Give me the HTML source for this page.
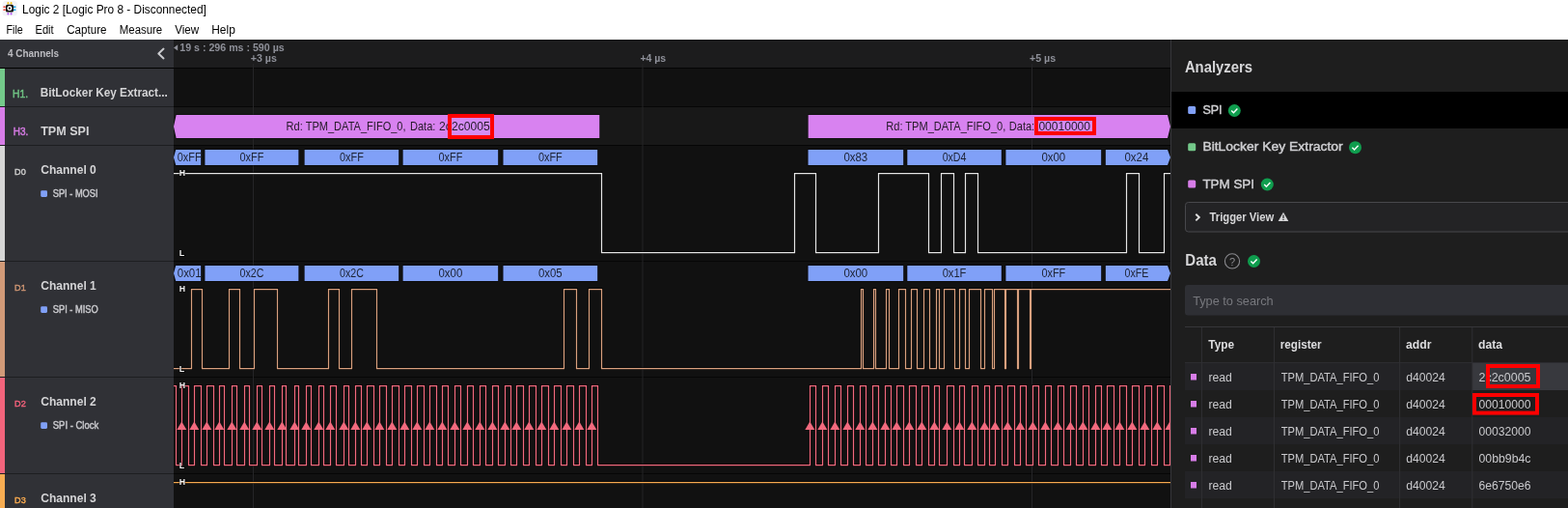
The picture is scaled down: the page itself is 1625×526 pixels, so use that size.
<!DOCTYPE html>
<html><head><meta charset="utf-8"><title>Logic 2</title>
<style>html,body{margin:0;padding:0;background:#fff;}body{width:1625px;height:526px;overflow:hidden;position:relative;}</style>
</head><body>
<svg width="1625" height="526" viewBox="0 0 1625 526" font-family='"Liberation Sans", Arial, sans-serif' style="position:absolute;left:0;top:0;display:block">
<rect x="0" y="0" width="1625" height="41" fill="#ffffff"/>
<g>
<rect x="2.5" y="1" width="15.5" height="15.5" rx="3.5" fill="#f3f4f8"/>
<ellipse cx="8.4" cy="3.3" rx="0.9" ry="1.3" fill="#f5c518"/>
<ellipse cx="11.6" cy="3.3" rx="0.9" ry="1.3" fill="#f5c518"/>
<ellipse cx="8.4" cy="14.2" rx="0.9" ry="1.3" fill="#b85cf5"/>
<ellipse cx="11.6" cy="14.2" rx="0.9" ry="1.3" fill="#b85cf5"/>
<ellipse cx="4.6" cy="7.2" rx="1.3" ry="0.9" fill="#f04a3a"/>
<ellipse cx="4.6" cy="10.2" rx="1.3" ry="0.9" fill="#f04a3a"/>
<ellipse cx="15.2" cy="7.2" rx="1.3" ry="0.9" fill="#1aa8f0"/>
<ellipse cx="15.2" cy="10.2" rx="1.3" ry="0.9" fill="#1aa8f0"/>
<rect x="6" y="4.8" width="8" height="7.8" rx="1.6" fill="#111"/>
<circle cx="9.9" cy="8.6" r="2.5" fill="#fff"/><circle cx="9.9" cy="8.6" r="1.1" fill="#111"/>
</g>
<text x="23.10" y="14.30" font-size="12" fill="#000" textLength="190.70" lengthAdjust="spacingAndGlyphs">Logic 2 [Logic Pro 8 - Disconnected]</text>
<text x="6.50" y="34.60" font-size="12" fill="#000" textLength="17.30" lengthAdjust="spacingAndGlyphs">File</text>
<text x="36.50" y="34.60" font-size="12" fill="#000" textLength="19.20" lengthAdjust="spacingAndGlyphs">Edit</text>
<text x="69.20" y="34.60" font-size="12" fill="#000" textLength="41.30" lengthAdjust="spacingAndGlyphs">Capture</text>
<text x="123.80" y="34.60" font-size="12" fill="#000" textLength="44.40" lengthAdjust="spacingAndGlyphs">Measure</text>
<text x="181.20" y="34.60" font-size="12" fill="#000" textLength="25.00" lengthAdjust="spacingAndGlyphs">View</text>
<text x="219.20" y="34.60" font-size="12" fill="#000" textLength="24.60" lengthAdjust="spacingAndGlyphs">Help</text>
<rect x="0" y="41" width="180" height="485" fill="#303136"/>
<text x="8.00" y="58.90" font-size="10" font-weight="bold" fill="#bdbdc2" textLength="53.10" lengthAdjust="spacingAndGlyphs">4 Channels</text>
<path d="M169.5 50.6 L164.3 55.5 L169.5 60.4" fill="none" stroke="#c9cace" stroke-width="2" stroke-linecap="round" stroke-linejoin="round"/>
<rect x="0" y="70" width="180" height="1" fill="#000000"/>
<rect x="0" y="110" width="180" height="1" fill="#1d1e21"/>
<rect x="0" y="150" width="180" height="1" fill="#1d1e21"/>
<rect x="0" y="270" width="180" height="1" fill="#1d1e21"/>
<rect x="0" y="390" width="180" height="1" fill="#1d1e21"/>
<rect x="0" y="490" width="180" height="1" fill="#1d1e21"/>
<rect x="0" y="71" width="5" height="39" fill="#74c98a"/>
<rect x="0" y="111" width="5" height="39" fill="#d77de8"/>
<rect x="0" y="151" width="5" height="119" fill="#d6d6d6"/>
<rect x="0" y="271" width="5" height="119" fill="#d19a78"/>
<rect x="0" y="391" width="5" height="99" fill="#f3647c"/>
<rect x="0" y="491" width="5" height="35" fill="#f7ad52"/>
<text x="13.00" y="101.00" font-size="10" stroke="#6fc183" stroke-width="0.45" fill="#6fc183" textLength="16.00" lengthAdjust="spacingAndGlyphs">H1.</text>
<text x="41.70" y="99.70" font-size="13" font-weight="bold" fill="#d4d4d6" textLength="132.10" lengthAdjust="spacingAndGlyphs">BitLocker Key Extract...</text>
<text x="13.70" y="140.30" font-size="10" stroke="#d47ae2" stroke-width="0.45" fill="#d47ae2" textLength="15.50" lengthAdjust="spacingAndGlyphs">H3.</text>
<text x="42.20" y="139.90" font-size="13" font-weight="bold" fill="#d4d4d6" textLength="50.20" lengthAdjust="spacingAndGlyphs">TPM SPI</text>
<text x="15.10" y="180.90" font-size="9.7" stroke="#c9c9c9" stroke-width="0.45" fill="#c9c9c9" textLength="11.60" lengthAdjust="spacingAndGlyphs">D0</text>
<text x="42.20" y="179.90" font-size="13" font-weight="bold" fill="#d4d4d6" textLength="57.60" lengthAdjust="spacingAndGlyphs">Channel 0</text>
<rect x="42.2" y="197.3" width="6.8" height="6.6" rx="1.3" fill="#80a0f7"/>
<text x="54.80" y="203.80" font-size="10" stroke="#c8c8cc" stroke-width="0.45" fill="#c8c8cc" textLength="46.70" lengthAdjust="spacingAndGlyphs">SPI - MOSI</text>
<text x="15.10" y="300.90" font-size="9.7" stroke="#cc9472" stroke-width="0.45" fill="#cc9472" textLength="11.60" lengthAdjust="spacingAndGlyphs">D1</text>
<text x="42.20" y="299.90" font-size="13" font-weight="bold" fill="#d4d4d6" textLength="57.60" lengthAdjust="spacingAndGlyphs">Channel 1</text>
<rect x="42.2" y="317.3" width="6.8" height="6.6" rx="1.3" fill="#80a0f7"/>
<text x="54.80" y="323.80" font-size="10" stroke="#c8c8cc" stroke-width="0.45" fill="#c8c8cc" textLength="46.90" lengthAdjust="spacingAndGlyphs">SPI - MISO</text>
<text x="15.10" y="420.90" font-size="9.7" stroke="#f0607a" stroke-width="0.45" fill="#f0607a" textLength="11.60" lengthAdjust="spacingAndGlyphs">D2</text>
<text x="42.20" y="419.90" font-size="13" font-weight="bold" fill="#d4d4d6" textLength="57.60" lengthAdjust="spacingAndGlyphs">Channel 2</text>
<rect x="42.2" y="437.3" width="6.8" height="6.6" rx="1.3" fill="#80a0f7"/>
<text x="54.80" y="443.80" font-size="10" stroke="#c8c8cc" stroke-width="0.45" fill="#c8c8cc" textLength="47.40" lengthAdjust="spacingAndGlyphs">SPI - Clock</text>
<text x="15.10" y="520.90" font-size="9.7" stroke="#f5a84f" stroke-width="0.45" fill="#f5a84f" textLength="11.60" lengthAdjust="spacingAndGlyphs">D3</text>
<text x="42.20" y="519.90" font-size="13" font-weight="bold" fill="#d4d4d6" textLength="57.60" lengthAdjust="spacingAndGlyphs">Channel 3</text>
<svg x="180" y="41" width="1033" height="485" viewBox="180 41 1033 485" overflow="hidden">
<rect x="180" y="41" width="1033" height="29" fill="#1c1c1d"/>
<rect x="180" y="70" width="1033" height="1" fill="#050505"/>
<rect x="180" y="71" width="1033" height="39" fill="#111111"/>
<rect x="180" y="111" width="1033" height="39" fill="#181818"/>
<rect x="180" y="151" width="1033" height="119" fill="#111111"/>
<rect x="180" y="271" width="1033" height="119" fill="#111111"/>
<rect x="180" y="391" width="1033" height="99" fill="#111111"/>
<rect x="180" y="491" width="1033" height="35" fill="#111111"/>
<rect x="180" y="110" width="1033" height="1" fill="#060606"/>
<rect x="180" y="150" width="1033" height="1" fill="#060606"/>
<rect x="180" y="270" width="1033" height="1" fill="#060606"/>
<rect x="180" y="390" width="1033" height="1" fill="#060606"/>
<rect x="180" y="490" width="1033" height="1" fill="#060606"/>
<line x1="262.5" y1="66" x2="262.5" y2="526" stroke="#252527" stroke-width="1"/>
<line x1="666" y1="66" x2="666" y2="526" stroke="#252527" stroke-width="1"/>
<line x1="1069.5" y1="66" x2="1069.5" y2="526" stroke="#252527" stroke-width="1"/>
<path d="M180 49.4 L184.2 46.2 L184.2 52.5 Z" fill="#8e9099"/>
<text x="186.30" y="52.60" font-size="10" font-weight="bold" fill="#8e9099" textLength="108.40" lengthAdjust="spacingAndGlyphs">19 s : 296 ms : 590 µs</text>
<text x="259.80" y="63.90" font-size="10" font-weight="bold" fill="#8e9099" textLength="27.10" lengthAdjust="spacingAndGlyphs">+3 µs</text>
<text x="663.40" y="63.90" font-size="10" font-weight="bold" fill="#8e9099" textLength="26.80" lengthAdjust="spacingAndGlyphs">+4 µs</text>
<text x="1067.00" y="63.90" font-size="10" font-weight="bold" fill="#8e9099" textLength="27.10" lengthAdjust="spacingAndGlyphs">+5 µs</text>
<path d="M180 131 L182.6 119 L621.3 119 L621.3 143 L182.6 143 Z" fill="#d882f0" stroke="#000" stroke-opacity="0.6" stroke-width="1.2" paint-order="stroke"/>
<path d="M837.6 119 L1210 119 L1213 131 L1210 143 L837.6 143 Z" fill="#d882f0" stroke="#000" stroke-opacity="0.6" stroke-width="1.2" paint-order="stroke"/>
<rect x="468" y="122" width="40" height="18" fill="#d48cf4"/>
<rect x="1076" y="125" width="56" height="11" fill="#d48cf4"/>
<text x="296.60" y="135.00" font-size="13" fill="#241a28" textLength="124.00" lengthAdjust="spacingAndGlyphs">Rd: TPM_DATA_FIFO_0,</text>
<text x="425.00" y="135.00" font-size="13" fill="#241a28" textLength="26.40" lengthAdjust="spacingAndGlyphs">Data:</text>
<text x="455.10" y="135.00" font-size="13" fill="#241a28" textLength="52.60" lengthAdjust="spacingAndGlyphs">2c2c0005</text>
<text x="918.30" y="135.00" font-size="13" fill="#241a28" textLength="124.00" lengthAdjust="spacingAndGlyphs">Rd: TPM_DATA_FIFO_0,</text>
<text x="1045.80" y="135.00" font-size="13" fill="#241a28" textLength="26.40" lengthAdjust="spacingAndGlyphs">Data:</text>
<text x="1076.40" y="135.00" font-size="13" fill="#241a28" textLength="53.60" lengthAdjust="spacingAndGlyphs">00010000</text>
<rect x="466" y="120" width="44" height="22" fill="none" stroke="#ff0000" stroke-width="4"/>
<rect x="1074" y="123" width="60" height="15" fill="none" stroke="#ff0000" stroke-width="4"/>
<path d="M180 163 L182.2 155 L208.2 155 L208.2 171 L182.2 171 Z" fill="#80a0f7" stroke="#000" stroke-opacity="0.6" stroke-width="1.2" paint-order="stroke"/>
<svg x="180" y="155" width="28.19999999999999" height="16" overflow="hidden"><text x="3.8" y="11.8" font-size="12" fill="#1c2233" textLength="24.8" lengthAdjust="spacingAndGlyphs">0xFF</text></svg>
<rect x="212.4" y="155" width="96.99999999999997" height="16" fill="#80a0f7" stroke="#000" stroke-opacity="0.6" stroke-width="1.2" paint-order="stroke"/>
<text x="260.90" y="166.80" font-size="12" fill="#1c2233" textLength="24.80" lengthAdjust="spacingAndGlyphs" text-anchor="middle">0xFF</text>
<rect x="315.6" y="155" width="97.59999999999997" height="16" fill="#80a0f7" stroke="#000" stroke-opacity="0.6" stroke-width="1.2" paint-order="stroke"/>
<text x="364.40" y="166.80" font-size="12" fill="#1c2233" textLength="24.80" lengthAdjust="spacingAndGlyphs" text-anchor="middle">0xFF</text>
<rect x="417.6" y="155" width="98.60000000000002" height="16" fill="#80a0f7" stroke="#000" stroke-opacity="0.6" stroke-width="1.2" paint-order="stroke"/>
<text x="466.90" y="166.80" font-size="12" fill="#1c2233" textLength="24.80" lengthAdjust="spacingAndGlyphs" text-anchor="middle">0xFF</text>
<rect x="521.5" y="155" width="97.70000000000005" height="16" fill="#80a0f7" stroke="#000" stroke-opacity="0.6" stroke-width="1.2" paint-order="stroke"/>
<text x="570.35" y="166.80" font-size="12" fill="#1c2233" textLength="24.80" lengthAdjust="spacingAndGlyphs" text-anchor="middle">0xFF</text>
<rect x="837.5" y="155" width="98.70000000000005" height="16" fill="#80a0f7" stroke="#000" stroke-opacity="0.6" stroke-width="1.2" paint-order="stroke"/>
<text x="886.85" y="166.80" font-size="12" fill="#1c2233" textLength="24.80" lengthAdjust="spacingAndGlyphs" text-anchor="middle">0x83</text>
<rect x="940.3" y="155" width="97.5" height="16" fill="#80a0f7" stroke="#000" stroke-opacity="0.6" stroke-width="1.2" paint-order="stroke"/>
<text x="989.05" y="166.80" font-size="12" fill="#1c2233" textLength="24.80" lengthAdjust="spacingAndGlyphs" text-anchor="middle">0xD4</text>
<rect x="1042.4" y="155" width="98.79999999999995" height="16" fill="#80a0f7" stroke="#000" stroke-opacity="0.6" stroke-width="1.2" paint-order="stroke"/>
<text x="1091.80" y="166.80" font-size="12" fill="#1c2233" textLength="24.80" lengthAdjust="spacingAndGlyphs" text-anchor="middle">0x00</text>
<path d="M1145.8 155 L1210 155 L1213 163 L1210 171 L1145.8 171 Z" fill="#80a0f7" stroke="#000" stroke-opacity="0.6" stroke-width="1.2" paint-order="stroke"/>
<text x="1177.90" y="166.80" font-size="12" fill="#1c2233" textLength="24.80" lengthAdjust="spacingAndGlyphs" text-anchor="middle">0x24</text>
<path d="M180 283 L182.2 275 L208.2 275 L208.2 291 L182.2 291 Z" fill="#80a0f7" stroke="#000" stroke-opacity="0.6" stroke-width="1.2" paint-order="stroke"/>
<svg x="180" y="275" width="28.19999999999999" height="16" overflow="hidden"><text x="3.8" y="11.8" font-size="12" fill="#1c2233" textLength="24.8" lengthAdjust="spacingAndGlyphs">0x01</text></svg>
<rect x="212.4" y="275" width="96.99999999999997" height="16" fill="#80a0f7" stroke="#000" stroke-opacity="0.6" stroke-width="1.2" paint-order="stroke"/>
<text x="260.90" y="286.80" font-size="12" fill="#1c2233" textLength="24.80" lengthAdjust="spacingAndGlyphs" text-anchor="middle">0x2C</text>
<rect x="315.6" y="275" width="97.59999999999997" height="16" fill="#80a0f7" stroke="#000" stroke-opacity="0.6" stroke-width="1.2" paint-order="stroke"/>
<text x="364.40" y="286.80" font-size="12" fill="#1c2233" textLength="24.80" lengthAdjust="spacingAndGlyphs" text-anchor="middle">0x2C</text>
<rect x="417.6" y="275" width="98.60000000000002" height="16" fill="#80a0f7" stroke="#000" stroke-opacity="0.6" stroke-width="1.2" paint-order="stroke"/>
<text x="466.90" y="286.80" font-size="12" fill="#1c2233" textLength="24.80" lengthAdjust="spacingAndGlyphs" text-anchor="middle">0x00</text>
<rect x="521.5" y="275" width="97.70000000000005" height="16" fill="#80a0f7" stroke="#000" stroke-opacity="0.6" stroke-width="1.2" paint-order="stroke"/>
<text x="570.35" y="286.80" font-size="12" fill="#1c2233" textLength="24.80" lengthAdjust="spacingAndGlyphs" text-anchor="middle">0x05</text>
<rect x="837.5" y="275" width="98.70000000000005" height="16" fill="#80a0f7" stroke="#000" stroke-opacity="0.6" stroke-width="1.2" paint-order="stroke"/>
<text x="886.85" y="286.80" font-size="12" fill="#1c2233" textLength="24.80" lengthAdjust="spacingAndGlyphs" text-anchor="middle">0x00</text>
<rect x="940.3" y="275" width="97.5" height="16" fill="#80a0f7" stroke="#000" stroke-opacity="0.6" stroke-width="1.2" paint-order="stroke"/>
<text x="989.05" y="286.80" font-size="12" fill="#1c2233" textLength="24.80" lengthAdjust="spacingAndGlyphs" text-anchor="middle">0x1F</text>
<rect x="1042.4" y="275" width="98.79999999999995" height="16" fill="#80a0f7" stroke="#000" stroke-opacity="0.6" stroke-width="1.2" paint-order="stroke"/>
<text x="1091.80" y="286.80" font-size="12" fill="#1c2233" textLength="24.80" lengthAdjust="spacingAndGlyphs" text-anchor="middle">0xFF</text>
<path d="M1145.8 275 L1210 275 L1213 283 L1210 291 L1145.8 291 Z" fill="#80a0f7" stroke="#000" stroke-opacity="0.6" stroke-width="1.2" paint-order="stroke"/>
<text x="1177.90" y="286.80" font-size="12" fill="#1c2233" textLength="24.80" lengthAdjust="spacingAndGlyphs" text-anchor="middle">0xFE</text>
<path d="M180 179.5 L623.50 179.5 L623.50 261.5 L823.50 261.5 L823.50 179.5 L845.50 179.5 L845.50 261.5 L910.50 261.5 L910.50 179.5 L962.50 179.5 L962.50 261.5 L975.50 261.5 L975.50 179.5 L988.50 179.5 L988.50 261.5 L1000.50 261.5 L1000.50 179.5 L1013.50 179.5 L1013.50 261.5 L1167.50 261.5 L1167.50 179.5 L1180.50 179.5 L1180.50 261.5 L1206.50 261.5 L1206.50 179.5 L1214 179.5" fill="none" stroke="#000" stroke-opacity="0.55" stroke-width="3" stroke-linejoin="miter"/>
<path d="M180 179.5 L623.50 179.5 L623.50 261.5 L823.50 261.5 L823.50 179.5 L845.50 179.5 L845.50 261.5 L910.50 261.5 L910.50 179.5 L962.50 179.5 L962.50 261.5 L975.50 261.5 L975.50 179.5 L988.50 179.5 L988.50 261.5 L1000.50 261.5 L1000.50 179.5 L1013.50 179.5 L1013.50 261.5 L1167.50 261.5 L1167.50 179.5 L1180.50 179.5 L1180.50 261.5 L1206.50 261.5 L1206.50 179.5 L1214 179.5" fill="none" stroke="#e6e6e6" stroke-width="1.25" stroke-linejoin="miter"/>
<path d="M180 381.5 L198.50 381.5 L198.50 299.5 L209.50 299.5 L209.50 381.5 L237.50 381.5 L237.50 299.5 L248.50 299.5 L248.50 381.5 L263.50 381.5 L263.50 299.5 L287.50 299.5 L287.50 381.5 L340.50 381.5 L340.50 299.5 L351.50 299.5 L351.50 381.5 L364.50 381.5 L364.50 299.5 L390.50 299.5 L390.50 381.5 L584.50 381.5 L584.50 299.5 L597.50 299.5 L597.50 381.5 L610.50 381.5 L610.50 299.5 L623.50 299.5 L623.50 381.5 L892.50 381.5 L892.50 299.5 L894.50 299.5 L894.50 381.5 L905.50 381.5 L905.50 299.5 L907.50 299.5 L907.50 381.5 L918.50 381.5 L918.50 299.5 L921.50 299.5 L921.50 381.5 L931.50 381.5 L931.50 299.5 L938.50 299.5 L938.50 381.5 L944.50 381.5 L944.50 299.5 L950.50 299.5 L950.50 381.5 L957.50 381.5 L957.50 299.5 L963.50 299.5 L963.50 381.5 L970.50 381.5 L970.50 299.5 L973.50 299.5 L973.50 381.5 L978.50 381.5 L978.50 299.5 L989.50 299.5 L989.50 381.5 L994.50 381.5 L994.50 299.5 L1000.50 299.5 L1000.50 381.5 L1004.50 381.5 L1004.50 299.5 L1016.50 299.5 L1016.50 381.5 L1020.50 381.5 L1020.50 299.5 L1028.50 299.5 L1028.50 381.5 L1030.50 381.5 L1030.50 299.5 L1041.50 299.5 L1041.50 381.5 L1042.50 381.5 L1042.50 299.5 L1054.50 299.5 L1054.50 381.5 L1055.50 381.5 L1055.50 299.5 L1067.50 299.5 L1067.50 381.5 L1068.50 381.5 L1068.50 299.5 L1214 299.5" fill="none" stroke="#000" stroke-opacity="0.55" stroke-width="3" stroke-linejoin="miter"/>
<path d="M180 381.5 L198.50 381.5 L198.50 299.5 L209.50 299.5 L209.50 381.5 L237.50 381.5 L237.50 299.5 L248.50 299.5 L248.50 381.5 L263.50 381.5 L263.50 299.5 L287.50 299.5 L287.50 381.5 L340.50 381.5 L340.50 299.5 L351.50 299.5 L351.50 381.5 L364.50 381.5 L364.50 299.5 L390.50 299.5 L390.50 381.5 L584.50 381.5 L584.50 299.5 L597.50 299.5 L597.50 381.5 L610.50 381.5 L610.50 299.5 L623.50 299.5 L623.50 381.5 L892.50 381.5 L892.50 299.5 L894.50 299.5 L894.50 381.5 L905.50 381.5 L905.50 299.5 L907.50 299.5 L907.50 381.5 L918.50 381.5 L918.50 299.5 L921.50 299.5 L921.50 381.5 L931.50 381.5 L931.50 299.5 L938.50 299.5 L938.50 381.5 L944.50 381.5 L944.50 299.5 L950.50 299.5 L950.50 381.5 L957.50 381.5 L957.50 299.5 L963.50 299.5 L963.50 381.5 L970.50 381.5 L970.50 299.5 L973.50 299.5 L973.50 381.5 L978.50 381.5 L978.50 299.5 L989.50 299.5 L989.50 381.5 L994.50 381.5 L994.50 299.5 L1000.50 299.5 L1000.50 381.5 L1004.50 381.5 L1004.50 299.5 L1016.50 299.5 L1016.50 381.5 L1020.50 381.5 L1020.50 299.5 L1028.50 299.5 L1028.50 381.5 L1030.50 381.5 L1030.50 299.5 L1041.50 299.5 L1041.50 381.5 L1042.50 381.5 L1042.50 299.5 L1054.50 299.5 L1054.50 381.5 L1055.50 381.5 L1055.50 299.5 L1067.50 299.5 L1067.50 381.5 L1068.50 381.5 L1068.50 299.5 L1214 299.5" fill="none" stroke="#d9a07e" stroke-width="1.25" stroke-linejoin="miter"/>
<path d="M180 399.5 L182.50 399.5 L182.50 481.5 L188.50 481.5 L188.50 399.5 L195.50 399.5 L195.50 481.5 L201.50 481.5 L201.50 399.5 L208.50 399.5 L208.50 481.5 L214.50 481.5 L214.50 399.5 L221.50 399.5 L221.50 481.5 L227.50 481.5 L227.50 399.5 L232.50 399.5 L232.50 481.5 L240.50 481.5 L240.50 399.5 L245.50 399.5 L245.50 481.5 L253.50 481.5 L253.50 399.5 L258.50 399.5 L258.50 481.5 L266.50 481.5 L266.50 399.5 L271.50 399.5 L271.50 481.5 L279.50 481.5 L279.50 399.5 L284.50 399.5 L284.50 481.5 L292.50 481.5 L292.50 399.5 L296.50 399.5 L296.50 481.5 L305.50 481.5 L305.50 399.5 L309.50 399.5 L309.50 481.5 L317.50 481.5 L317.50 399.5 L322.50 399.5 L322.50 481.5 L330.50 481.5 L330.50 399.5 L335.50 399.5 L335.50 481.5 L342.50 481.5 L342.50 399.5 L348.50 399.5 L348.50 481.5 L356.50 481.5 L356.50 399.5 L361.50 399.5 L361.50 481.5 L368.50 481.5 L368.50 399.5 L374.50 399.5 L374.50 481.5 L380.50 481.5 L380.50 399.5 L387.50 399.5 L387.50 481.5 L393.50 481.5 L393.50 399.5 L400.50 399.5 L400.50 481.5 L406.50 481.5 L406.50 399.5 L413.50 399.5 L413.50 481.5 L419.50 481.5 L419.50 399.5 L426.50 399.5 L426.50 481.5 L432.50 481.5 L432.50 399.5 L439.50 399.5 L439.50 481.5 L445.50 481.5 L445.50 399.5 L452.50 399.5 L452.50 481.5 L458.50 481.5 L458.50 399.5 L464.50 399.5 L464.50 481.5 L471.50 481.5 L471.50 399.5 L477.50 399.5 L477.50 481.5 L484.50 481.5 L484.50 399.5 L490.50 399.5 L490.50 481.5 L497.50 481.5 L497.50 399.5 L503.50 399.5 L503.50 481.5 L510.50 481.5 L510.50 399.5 L516.50 399.5 L516.50 481.5 L523.50 481.5 L523.50 399.5 L529.50 399.5 L529.50 481.5 L535.50 481.5 L535.50 399.5 L542.50 399.5 L542.50 481.5 L548.50 481.5 L548.50 399.5 L555.50 399.5 L555.50 481.5 L561.50 481.5 L561.50 399.5 L568.50 399.5 L568.50 481.5 L574.50 481.5 L574.50 399.5 L581.50 399.5 L581.50 481.5 L587.50 481.5 L587.50 399.5 L594.50 399.5 L594.50 481.5 L600.50 481.5 L600.50 399.5 L607.50 399.5 L607.50 481.5 L613.50 481.5 L613.50 399.5 L619.50 399.5 L619.50 481.5 L839.50 481.5 L839.50 399.5 L845.50 399.5 L845.50 481.5 L852.50 481.5 L852.50 399.5 L858.50 399.5 L858.50 481.5 L865.50 481.5 L865.50 399.5 L871.50 399.5 L871.50 481.5 L878.50 481.5 L878.50 399.5 L884.50 399.5 L884.50 481.5 L891.50 481.5 L891.50 399.5 L897.50 399.5 L897.50 481.5 L904.50 481.5 L904.50 399.5 L910.50 399.5 L910.50 481.5 L917.50 481.5 L917.50 399.5 L923.50 399.5 L923.50 481.5 L929.50 481.5 L929.50 399.5 L936.50 399.5 L936.50 481.5 L942.50 481.5 L942.50 399.5 L949.50 399.5 L949.50 481.5 L955.50 481.5 L955.50 399.5 L962.50 399.5 L962.50 481.5 L968.50 481.5 L968.50 399.5 L973.50 399.5 L973.50 481.5 L981.50 481.5 L981.50 399.5 L988.50 399.5 L988.50 481.5 L994.50 481.5 L994.50 399.5 L999.50 399.5 L999.50 481.5 L1007.50 481.5 L1007.50 399.5 L1013.50 399.5 L1013.50 481.5 L1020.50 481.5 L1020.50 399.5 L1025.50 399.5 L1025.50 481.5 L1031.50 481.5 L1031.50 399.5 L1038.50 399.5 L1038.50 481.5 L1044.50 481.5 L1044.50 399.5 L1051.50 399.5 L1051.50 481.5 L1057.50 481.5 L1057.50 399.5 L1063.50 399.5 L1063.50 481.5 L1070.50 481.5 L1070.50 399.5 L1076.50 399.5 L1076.50 481.5 L1083.50 481.5 L1083.50 399.5 L1089.50 399.5 L1089.50 481.5 L1096.50 481.5 L1096.50 399.5 L1102.50 399.5 L1102.50 481.5 L1109.50 481.5 L1109.50 399.5 L1115.50 399.5 L1115.50 481.5 L1122.50 481.5 L1122.50 399.5 L1128.50 399.5 L1128.50 481.5 L1135.50 481.5 L1135.50 399.5 L1141.50 399.5 L1141.50 481.5 L1147.50 481.5 L1147.50 399.5 L1154.50 399.5 L1154.50 481.5 L1160.50 481.5 L1160.50 399.5 L1167.50 399.5 L1167.50 481.5 L1173.50 481.5 L1173.50 399.5 L1180.50 399.5 L1180.50 481.5 L1186.50 481.5 L1186.50 399.5 L1193.50 399.5 L1193.50 481.5 L1199.50 481.5 L1199.50 399.5 L1206.50 399.5 L1206.50 481.5 L1212.50 481.5 L1212.50 399.5 L1214 399.5" fill="none" stroke="#000" stroke-opacity="0.55" stroke-width="3" stroke-linejoin="miter"/>
<path d="M180 399.5 L182.50 399.5 L182.50 481.5 L188.50 481.5 L188.50 399.5 L195.50 399.5 L195.50 481.5 L201.50 481.5 L201.50 399.5 L208.50 399.5 L208.50 481.5 L214.50 481.5 L214.50 399.5 L221.50 399.5 L221.50 481.5 L227.50 481.5 L227.50 399.5 L232.50 399.5 L232.50 481.5 L240.50 481.5 L240.50 399.5 L245.50 399.5 L245.50 481.5 L253.50 481.5 L253.50 399.5 L258.50 399.5 L258.50 481.5 L266.50 481.5 L266.50 399.5 L271.50 399.5 L271.50 481.5 L279.50 481.5 L279.50 399.5 L284.50 399.5 L284.50 481.5 L292.50 481.5 L292.50 399.5 L296.50 399.5 L296.50 481.5 L305.50 481.5 L305.50 399.5 L309.50 399.5 L309.50 481.5 L317.50 481.5 L317.50 399.5 L322.50 399.5 L322.50 481.5 L330.50 481.5 L330.50 399.5 L335.50 399.5 L335.50 481.5 L342.50 481.5 L342.50 399.5 L348.50 399.5 L348.50 481.5 L356.50 481.5 L356.50 399.5 L361.50 399.5 L361.50 481.5 L368.50 481.5 L368.50 399.5 L374.50 399.5 L374.50 481.5 L380.50 481.5 L380.50 399.5 L387.50 399.5 L387.50 481.5 L393.50 481.5 L393.50 399.5 L400.50 399.5 L400.50 481.5 L406.50 481.5 L406.50 399.5 L413.50 399.5 L413.50 481.5 L419.50 481.5 L419.50 399.5 L426.50 399.5 L426.50 481.5 L432.50 481.5 L432.50 399.5 L439.50 399.5 L439.50 481.5 L445.50 481.5 L445.50 399.5 L452.50 399.5 L452.50 481.5 L458.50 481.5 L458.50 399.5 L464.50 399.5 L464.50 481.5 L471.50 481.5 L471.50 399.5 L477.50 399.5 L477.50 481.5 L484.50 481.5 L484.50 399.5 L490.50 399.5 L490.50 481.5 L497.50 481.5 L497.50 399.5 L503.50 399.5 L503.50 481.5 L510.50 481.5 L510.50 399.5 L516.50 399.5 L516.50 481.5 L523.50 481.5 L523.50 399.5 L529.50 399.5 L529.50 481.5 L535.50 481.5 L535.50 399.5 L542.50 399.5 L542.50 481.5 L548.50 481.5 L548.50 399.5 L555.50 399.5 L555.50 481.5 L561.50 481.5 L561.50 399.5 L568.50 399.5 L568.50 481.5 L574.50 481.5 L574.50 399.5 L581.50 399.5 L581.50 481.5 L587.50 481.5 L587.50 399.5 L594.50 399.5 L594.50 481.5 L600.50 481.5 L600.50 399.5 L607.50 399.5 L607.50 481.5 L613.50 481.5 L613.50 399.5 L619.50 399.5 L619.50 481.5 L839.50 481.5 L839.50 399.5 L845.50 399.5 L845.50 481.5 L852.50 481.5 L852.50 399.5 L858.50 399.5 L858.50 481.5 L865.50 481.5 L865.50 399.5 L871.50 399.5 L871.50 481.5 L878.50 481.5 L878.50 399.5 L884.50 399.5 L884.50 481.5 L891.50 481.5 L891.50 399.5 L897.50 399.5 L897.50 481.5 L904.50 481.5 L904.50 399.5 L910.50 399.5 L910.50 481.5 L917.50 481.5 L917.50 399.5 L923.50 399.5 L923.50 481.5 L929.50 481.5 L929.50 399.5 L936.50 399.5 L936.50 481.5 L942.50 481.5 L942.50 399.5 L949.50 399.5 L949.50 481.5 L955.50 481.5 L955.50 399.5 L962.50 399.5 L962.50 481.5 L968.50 481.5 L968.50 399.5 L973.50 399.5 L973.50 481.5 L981.50 481.5 L981.50 399.5 L988.50 399.5 L988.50 481.5 L994.50 481.5 L994.50 399.5 L999.50 399.5 L999.50 481.5 L1007.50 481.5 L1007.50 399.5 L1013.50 399.5 L1013.50 481.5 L1020.50 481.5 L1020.50 399.5 L1025.50 399.5 L1025.50 481.5 L1031.50 481.5 L1031.50 399.5 L1038.50 399.5 L1038.50 481.5 L1044.50 481.5 L1044.50 399.5 L1051.50 399.5 L1051.50 481.5 L1057.50 481.5 L1057.50 399.5 L1063.50 399.5 L1063.50 481.5 L1070.50 481.5 L1070.50 399.5 L1076.50 399.5 L1076.50 481.5 L1083.50 481.5 L1083.50 399.5 L1089.50 399.5 L1089.50 481.5 L1096.50 481.5 L1096.50 399.5 L1102.50 399.5 L1102.50 481.5 L1109.50 481.5 L1109.50 399.5 L1115.50 399.5 L1115.50 481.5 L1122.50 481.5 L1122.50 399.5 L1128.50 399.5 L1128.50 481.5 L1135.50 481.5 L1135.50 399.5 L1141.50 399.5 L1141.50 481.5 L1147.50 481.5 L1147.50 399.5 L1154.50 399.5 L1154.50 481.5 L1160.50 481.5 L1160.50 399.5 L1167.50 399.5 L1167.50 481.5 L1173.50 481.5 L1173.50 399.5 L1180.50 399.5 L1180.50 481.5 L1186.50 481.5 L1186.50 399.5 L1193.50 399.5 L1193.50 481.5 L1199.50 481.5 L1199.50 399.5 L1206.50 399.5 L1206.50 481.5 L1212.50 481.5 L1212.50 399.5 L1214 399.5" fill="none" stroke="#f26a7e" stroke-width="1.25" stroke-linejoin="miter"/>
<path d="M183.30 445 L188.30 436.6 L193.30 445 Z" fill="#f26a7e"/>
<path d="M196.30 445 L201.30 436.6 L206.30 445 Z" fill="#f26a7e"/>
<path d="M209.30 445 L214.30 436.6 L219.30 445 Z" fill="#f26a7e"/>
<path d="M222.30 445 L227.30 436.6 L232.30 445 Z" fill="#f26a7e"/>
<path d="M235.30 445 L240.30 436.6 L245.30 445 Z" fill="#f26a7e"/>
<path d="M248.30 445 L253.30 436.6 L258.30 445 Z" fill="#f26a7e"/>
<path d="M261.30 445 L266.30 436.6 L271.30 445 Z" fill="#f26a7e"/>
<path d="M274.30 445 L279.30 436.6 L284.30 445 Z" fill="#f26a7e"/>
<path d="M287.30 445 L292.30 436.6 L297.30 445 Z" fill="#f26a7e"/>
<path d="M300.30 445 L305.30 436.6 L310.30 445 Z" fill="#f26a7e"/>
<path d="M312.30 445 L317.30 436.6 L322.30 445 Z" fill="#f26a7e"/>
<path d="M325.30 445 L330.30 436.6 L335.30 445 Z" fill="#f26a7e"/>
<path d="M337.30 445 L342.30 436.6 L347.30 445 Z" fill="#f26a7e"/>
<path d="M351.30 445 L356.30 436.6 L361.30 445 Z" fill="#f26a7e"/>
<path d="M363.30 445 L368.30 436.6 L373.30 445 Z" fill="#f26a7e"/>
<path d="M375.30 445 L380.30 436.6 L385.30 445 Z" fill="#f26a7e"/>
<path d="M388.30 445 L393.30 436.6 L398.30 445 Z" fill="#f26a7e"/>
<path d="M401.30 445 L406.30 436.6 L411.30 445 Z" fill="#f26a7e"/>
<path d="M414.30 445 L419.30 436.6 L424.30 445 Z" fill="#f26a7e"/>
<path d="M427.30 445 L432.30 436.6 L437.30 445 Z" fill="#f26a7e"/>
<path d="M440.30 445 L445.30 436.6 L450.30 445 Z" fill="#f26a7e"/>
<path d="M453.30 445 L458.30 436.6 L463.30 445 Z" fill="#f26a7e"/>
<path d="M466.30 445 L471.30 436.6 L476.30 445 Z" fill="#f26a7e"/>
<path d="M479.30 445 L484.30 436.6 L489.30 445 Z" fill="#f26a7e"/>
<path d="M492.30 445 L497.30 436.6 L502.30 445 Z" fill="#f26a7e"/>
<path d="M505.30 445 L510.30 436.6 L515.30 445 Z" fill="#f26a7e"/>
<path d="M518.30 445 L523.30 436.6 L528.30 445 Z" fill="#f26a7e"/>
<path d="M530.30 445 L535.30 436.6 L540.30 445 Z" fill="#f26a7e"/>
<path d="M543.30 445 L548.30 436.6 L553.30 445 Z" fill="#f26a7e"/>
<path d="M556.30 445 L561.30 436.6 L566.30 445 Z" fill="#f26a7e"/>
<path d="M569.30 445 L574.30 436.6 L579.30 445 Z" fill="#f26a7e"/>
<path d="M582.30 445 L587.30 436.6 L592.30 445 Z" fill="#f26a7e"/>
<path d="M595.30 445 L600.30 436.6 L605.30 445 Z" fill="#f26a7e"/>
<path d="M608.30 445 L613.30 436.6 L618.30 445 Z" fill="#f26a7e"/>
<path d="M834.30 445 L839.30 436.6 L844.30 445 Z" fill="#f26a7e"/>
<path d="M847.30 445 L852.30 436.6 L857.30 445 Z" fill="#f26a7e"/>
<path d="M860.30 445 L865.30 436.6 L870.30 445 Z" fill="#f26a7e"/>
<path d="M873.30 445 L878.30 436.6 L883.30 445 Z" fill="#f26a7e"/>
<path d="M886.30 445 L891.30 436.6 L896.30 445 Z" fill="#f26a7e"/>
<path d="M899.30 445 L904.30 436.6 L909.30 445 Z" fill="#f26a7e"/>
<path d="M912.30 445 L917.30 436.6 L922.30 445 Z" fill="#f26a7e"/>
<path d="M924.30 445 L929.30 436.6 L934.30 445 Z" fill="#f26a7e"/>
<path d="M937.30 445 L942.30 436.6 L947.30 445 Z" fill="#f26a7e"/>
<path d="M950.30 445 L955.30 436.6 L960.30 445 Z" fill="#f26a7e"/>
<path d="M963.30 445 L968.30 436.6 L973.30 445 Z" fill="#f26a7e"/>
<path d="M976.30 445 L981.30 436.6 L986.30 445 Z" fill="#f26a7e"/>
<path d="M989.30 445 L994.30 436.6 L999.30 445 Z" fill="#f26a7e"/>
<path d="M1002.30 445 L1007.30 436.6 L1012.30 445 Z" fill="#f26a7e"/>
<path d="M1015.30 445 L1020.30 436.6 L1025.30 445 Z" fill="#f26a7e"/>
<path d="M1026.30 445 L1031.30 436.6 L1036.30 445 Z" fill="#f26a7e"/>
<path d="M1039.30 445 L1044.30 436.6 L1049.30 445 Z" fill="#f26a7e"/>
<path d="M1052.30 445 L1057.30 436.6 L1062.30 445 Z" fill="#f26a7e"/>
<path d="M1065.30 445 L1070.30 436.6 L1075.30 445 Z" fill="#f26a7e"/>
<path d="M1078.30 445 L1083.30 436.6 L1088.30 445 Z" fill="#f26a7e"/>
<path d="M1091.30 445 L1096.30 436.6 L1101.30 445 Z" fill="#f26a7e"/>
<path d="M1104.30 445 L1109.30 436.6 L1114.30 445 Z" fill="#f26a7e"/>
<path d="M1117.30 445 L1122.30 436.6 L1127.30 445 Z" fill="#f26a7e"/>
<path d="M1130.30 445 L1135.30 436.6 L1140.30 445 Z" fill="#f26a7e"/>
<path d="M1142.30 445 L1147.30 436.6 L1152.30 445 Z" fill="#f26a7e"/>
<path d="M1155.30 445 L1160.30 436.6 L1165.30 445 Z" fill="#f26a7e"/>
<path d="M1168.30 445 L1173.30 436.6 L1178.30 445 Z" fill="#f26a7e"/>
<path d="M1181.30 445 L1186.30 436.6 L1191.30 445 Z" fill="#f26a7e"/>
<path d="M1194.30 445 L1199.30 436.6 L1204.30 445 Z" fill="#f26a7e"/>
<path d="M1207.30 445 L1212.30 436.6 L1217.30 445 Z" fill="#f26a7e"/>
<path d="M180 499.5 L1214 499.5" fill="none" stroke="#000" stroke-opacity="0.55" stroke-width="3" stroke-linejoin="miter"/>
<path d="M180 499.5 L1214 499.5" fill="none" stroke="#f5a84f" stroke-width="1.25" stroke-linejoin="miter"/>
<text x="185.7" y="182.30" font-size="9" font-weight="bold" fill="#f0f0f0" stroke="#000" stroke-opacity="0.7" stroke-width="1.4" paint-order="stroke" textLength="6.3" lengthAdjust="spacingAndGlyphs">H</text>
<text x="185.7" y="265.10" font-size="9" font-weight="bold" fill="#f0f0f0" stroke="#000" stroke-opacity="0.7" stroke-width="1.4" paint-order="stroke" textLength="5.4" lengthAdjust="spacingAndGlyphs">L</text>
<text x="185.7" y="302.30" font-size="9" font-weight="bold" fill="#f0f0f0" stroke="#000" stroke-opacity="0.7" stroke-width="1.4" paint-order="stroke" textLength="6.3" lengthAdjust="spacingAndGlyphs">H</text>
<text x="185.7" y="385.10" font-size="9" font-weight="bold" fill="#f0f0f0" stroke="#000" stroke-opacity="0.7" stroke-width="1.4" paint-order="stroke" textLength="5.4" lengthAdjust="spacingAndGlyphs">L</text>
<text x="185.7" y="402.30" font-size="9" font-weight="bold" fill="#f0f0f0" stroke="#000" stroke-opacity="0.7" stroke-width="1.4" paint-order="stroke" textLength="6.3" lengthAdjust="spacingAndGlyphs">H</text>
<text x="185.7" y="485.10" font-size="9" font-weight="bold" fill="#f0f0f0" stroke="#000" stroke-opacity="0.7" stroke-width="1.4" paint-order="stroke" textLength="5.4" lengthAdjust="spacingAndGlyphs">L</text>
<text x="185.7" y="502.30" font-size="9" font-weight="bold" fill="#f0f0f0" stroke="#000" stroke-opacity="0.7" stroke-width="1.4" paint-order="stroke" textLength="6.3" lengthAdjust="spacingAndGlyphs">H</text>
</svg>
<rect x="1213" y="41" width="1" height="485" fill="#36363a"/>
<rect x="1214" y="41" width="411" height="485" fill="#1e1e1e"/>
<text x="1227.90" y="75.10" font-size="16" font-weight="bold" fill="#d6d6d8" textLength="70.20" lengthAdjust="spacingAndGlyphs">Analyzers</text>
<rect x="1214" y="95" width="411" height="38" fill="#000000"/>
<rect x="1231.2" y="110" width="8" height="8" rx="1.5" fill="#82a1f8"/>
<text x="1246.40" y="118.00" font-size="13.5" stroke="#cfcfd2" stroke-width="0.45" fill="#cfcfd2" textLength="20.20" lengthAdjust="spacingAndGlyphs">SPI</text>
<circle cx="1279.3" cy="114.5" r="6.5" fill="#0f9d4e"/>
<path d="M1276.2 114.6 L1278.3999999999999 116.7 L1282.3999999999999 112.6" fill="none" stroke="#fff" stroke-width="1.45"/>
<rect x="1231.2" y="148.2" width="8" height="8" rx="1.5" fill="#74c98a"/>
<text x="1246.40" y="156.20" font-size="13.5" stroke="#cfcfd2" stroke-width="0.45" fill="#cfcfd2" textLength="145.30" lengthAdjust="spacingAndGlyphs">BitLocker Key Extractor</text>
<circle cx="1404.5" cy="152.7" r="6.5" fill="#0f9d4e"/>
<path d="M1401.4 152.79999999999998 L1403.6 154.89999999999998 L1407.6 150.79999999999998" fill="none" stroke="#fff" stroke-width="1.45"/>
<rect x="1231.2" y="186.5" width="8" height="8" rx="1.5" fill="#d77de8"/>
<text x="1246.40" y="194.50" font-size="13.5" stroke="#cfcfd2" stroke-width="0.45" fill="#cfcfd2" textLength="53.60" lengthAdjust="spacingAndGlyphs">TPM SPI</text>
<circle cx="1313.3" cy="191.0" r="6.5" fill="#0f9d4e"/>
<path d="M1310.2 191.1 L1312.3999999999999 193.2 L1316.3999999999999 189.1" fill="none" stroke="#fff" stroke-width="1.45"/>
<rect x="1228.5" y="209.5" width="420" height="30.5" rx="3" fill="#232325" stroke="#48484c" stroke-width="1"/>
<path d="M1239.3 221.8 L1242.8 225.1 L1239.3 228.4" fill="none" stroke="#e0e0e0" stroke-width="1.9"/>
<text x="1253.50" y="229.10" font-size="12.5" font-weight="bold" fill="#d6d6d8" textLength="66.70" lengthAdjust="spacingAndGlyphs">Trigger View</text>
<path d="M1330 219.8 L1335.3 229 L1324.7 229 Z" fill="#d6d6d8"/><rect x="1329.4" y="222.6" width="1.2" height="3.4" fill="#232325"/><rect x="1329.4" y="226.8" width="1.2" height="1.2" fill="#232325"/>
<text x="1228.30" y="274.80" font-size="16" font-weight="bold" fill="#d6d6d8" textLength="32.60" lengthAdjust="spacingAndGlyphs">Data</text>
<circle cx="1277" cy="270.4" r="7.6" fill="none" stroke="#8a8a8e" stroke-width="1.1"/>
<text x="1277.00" y="274.60" font-size="11" fill="#8a8a8e" text-anchor="middle">?</text>
<circle cx="1299.5" cy="270.5" r="6.5" fill="#0f9d4e"/>
<path d="M1296.4 270.6 L1298.6 272.7 L1302.6 268.6" fill="none" stroke="#fff" stroke-width="1.45"/>
<rect x="1228" y="295" width="420" height="31.5" rx="3" fill="#2e2f34"/>
<text x="1236.20" y="316.10" font-size="13" fill="#77787d" textLength="83.50" lengthAdjust="spacingAndGlyphs">Type to search</text>
<rect x="1228" y="338" width="397" height="1" fill="#36363a"/>
<rect x="1228" y="375" width="397" height="1" fill="#2c2c30"/>
<rect x="1228" y="376" width="397" height="28" fill="#232326"/>
<rect x="1228" y="432" width="397" height="28" fill="#232326"/>
<rect x="1228" y="488" width="397" height="28" fill="#232326"/>
<rect x="1526" y="376" width="99" height="28" fill="#38393e"/>
<rect x="1244.9" y="339" width="1" height="187" fill="#303034"/>
<rect x="1319.9" y="339" width="1" height="187" fill="#303034"/>
<rect x="1450.1" y="339" width="1" height="187" fill="#303034"/>
<rect x="1525.3" y="339" width="1" height="187" fill="#303034"/>
<text x="1252.30" y="360.80" font-size="12.5" font-weight="bold" fill="#dcdcde" textLength="26.80" lengthAdjust="spacingAndGlyphs">Type</text>
<text x="1326.80" y="360.80" font-size="12.5" font-weight="bold" fill="#dcdcde" textLength="42.80" lengthAdjust="spacingAndGlyphs">register</text>
<text x="1457.00" y="360.80" font-size="12.5" font-weight="bold" fill="#dcdcde" textLength="26.40" lengthAdjust="spacingAndGlyphs">addr</text>
<text x="1532.00" y="360.80" font-size="12.5" font-weight="bold" fill="#dcdcde" textLength="25.00" lengthAdjust="spacingAndGlyphs">data</text>
<rect x="1234" y="387" width="6" height="6.5" fill="#d77de8"/>
<text x="1252.40" y="394.80" font-size="13" fill="#c9c9cc" textLength="24.40" lengthAdjust="spacingAndGlyphs">read</text>
<text x="1327.70" y="394.80" font-size="13" fill="#c9c9cc" textLength="101.70" lengthAdjust="spacingAndGlyphs">TPM_DATA_FIFO_0</text>
<text x="1457.30" y="394.80" font-size="13" fill="#c9c9cc" textLength="40.60" lengthAdjust="spacingAndGlyphs">d40024</text>
<text x="1532.50" y="394.80" font-size="13" fill="#c9c9cc" textLength="54.00" lengthAdjust="spacingAndGlyphs">2c2c0005</text>
<rect x="1234" y="415" width="6" height="6.5" fill="#d77de8"/>
<text x="1252.40" y="422.80" font-size="13" fill="#c9c9cc" textLength="24.40" lengthAdjust="spacingAndGlyphs">read</text>
<text x="1327.70" y="422.80" font-size="13" fill="#c9c9cc" textLength="101.70" lengthAdjust="spacingAndGlyphs">TPM_DATA_FIFO_0</text>
<text x="1457.30" y="422.80" font-size="13" fill="#c9c9cc" textLength="40.60" lengthAdjust="spacingAndGlyphs">d40024</text>
<text x="1532.50" y="422.80" font-size="13" fill="#c9c9cc" textLength="54.00" lengthAdjust="spacingAndGlyphs">00010000</text>
<rect x="1234" y="443" width="6" height="6.5" fill="#d77de8"/>
<text x="1252.40" y="450.80" font-size="13" fill="#c9c9cc" textLength="24.40" lengthAdjust="spacingAndGlyphs">read</text>
<text x="1327.70" y="450.80" font-size="13" fill="#c9c9cc" textLength="101.70" lengthAdjust="spacingAndGlyphs">TPM_DATA_FIFO_0</text>
<text x="1457.30" y="450.80" font-size="13" fill="#c9c9cc" textLength="40.60" lengthAdjust="spacingAndGlyphs">d40024</text>
<text x="1532.50" y="450.80" font-size="13" fill="#c9c9cc" textLength="54.00" lengthAdjust="spacingAndGlyphs">00032000</text>
<rect x="1234" y="471" width="6" height="6.5" fill="#d77de8"/>
<text x="1252.40" y="478.80" font-size="13" fill="#c9c9cc" textLength="24.40" lengthAdjust="spacingAndGlyphs">read</text>
<text x="1327.70" y="478.80" font-size="13" fill="#c9c9cc" textLength="101.70" lengthAdjust="spacingAndGlyphs">TPM_DATA_FIFO_0</text>
<text x="1457.30" y="478.80" font-size="13" fill="#c9c9cc" textLength="40.60" lengthAdjust="spacingAndGlyphs">d40024</text>
<text x="1532.50" y="478.80" font-size="13" fill="#c9c9cc" textLength="54.00" lengthAdjust="spacingAndGlyphs">00bb9b4c</text>
<rect x="1234" y="499" width="6" height="6.5" fill="#d77de8"/>
<text x="1252.40" y="506.80" font-size="13" fill="#c9c9cc" textLength="24.40" lengthAdjust="spacingAndGlyphs">read</text>
<text x="1327.70" y="506.80" font-size="13" fill="#c9c9cc" textLength="101.70" lengthAdjust="spacingAndGlyphs">TPM_DATA_FIFO_0</text>
<text x="1457.30" y="506.80" font-size="13" fill="#c9c9cc" textLength="40.60" lengthAdjust="spacingAndGlyphs">d40024</text>
<text x="1532.50" y="506.80" font-size="13" fill="#c9c9cc" textLength="54.00" lengthAdjust="spacingAndGlyphs">6e6750e6</text>
<rect x="1542" y="379" width="52" height="21" fill="none" stroke="#ff0000" stroke-width="4"/>
<rect x="1528" y="409" width="65" height="18.6" fill="none" stroke="#ff0000" stroke-width="4"/>
</svg>
</body></html>
